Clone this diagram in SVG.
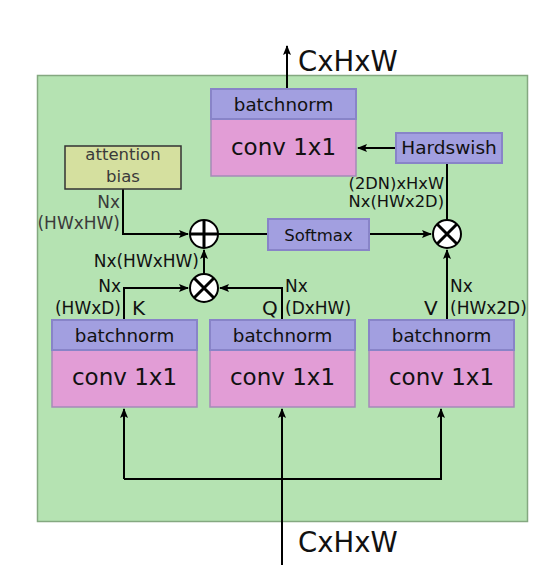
<svg xmlns="http://www.w3.org/2000/svg" width="557" height="583" viewBox="0 0 557 583">
<defs>
<marker id="ah" markerWidth="10" markerHeight="8" refX="9" refY="4" orient="auto" markerUnits="userSpaceOnUse">
<path d="M0,0 L10,4 L0,8 L2,4 Z" fill="#000"/>
</marker>
<style>
text{font-family:"DejaVu Sans","Liberation Sans",sans-serif;fill:#111}
.bn{fill:#a29fe0;stroke:#8884c8;stroke-width:2}
.cv{fill:#e29dd6;stroke:#a58ab8;stroke-width:1.5}
.bnt{font-size:18.3px;text-anchor:middle}
.cvt{font-size:23px;text-anchor:middle}
.lbl{font-size:17px}
.r{text-anchor:end}
.ln{fill:none;stroke:#000;stroke-width:2}
.op{fill:#fff;stroke:#000;stroke-width:2}
</style>
</defs>
<rect id="container" x="37.5" y="75.5" width="490" height="446" fill="#b5e3b2" stroke="#84a880" stroke-width="1.5"/>

<g id="connectors">
<path class="ln" d="M287,89 V46" marker-end="url(#ah)"/>
<path class="ln" d="M396,148 H358" marker-end="url(#ah)"/>
<path class="ln" d="M447,163 V220"/>
<path class="ln" d="M369,234 H431" marker-end="url(#ah)"/>
<path class="ln" d="M218,234 H268"/>
<path class="ln" d="M123,189 V234 H188" marker-end="url(#ah)"/>
<path class="ln" d="M204,274 V250" marker-end="url(#ah)"/>
<path class="ln" d="M124,320 V288 H188" marker-end="url(#ah)"/>
<path class="ln" d="M282,320 V288 H220" marker-end="url(#ah)"/>
<path class="ln" d="M447,320 V250" marker-end="url(#ah)"/>
<path class="ln" d="M282,565 V409" marker-end="url(#ah)"/>
<path class="ln" d="M124,479 V409" marker-end="url(#ah)"/>
<path class="ln" d="M124,479 H441 V409" marker-end="url(#ah)"/>
</g>

<g id="out-conv">
<rect class="cv" x="211" y="119" width="145" height="57"/>
<rect class="bn" x="211" y="89" width="145" height="30"/>
<text class="bnt" x="283.5" y="111">batchnorm</text>
<text class="cvt" x="283.5" y="155">conv 1x1</text>
</g>
<text id="out-label" x="298" y="71" font-size="27.5px">CxHxW</text>

<g id="hardswish">
<rect class="bn" x="396" y="133" width="106" height="30"/>
<text x="449" y="154" font-size="18.5px" text-anchor="middle">Hardswish</text>
</g>

<g id="attention-bias">
<rect x="65" y="146" width="116" height="43" fill="#d5e09f" stroke="#333" stroke-width="1.5"/>
<text x="123" y="160" font-size="16.5px" text-anchor="middle" style="fill:#3a3a3a">attention</text>
<text x="123" y="182" font-size="16.5px" text-anchor="middle" style="fill:#3a3a3a">bias</text>
</g>

<g id="softmax">
<rect class="bn" x="268" y="219" width="101" height="31"/>
<text x="318.5" y="241" font-size="16.5px" text-anchor="middle">Softmax</text>
</g>

<g id="oplus">
<circle class="op" cx="204" cy="234" r="14"/>
<path d="M204,220 V248 M190,234 H218" stroke="#000" stroke-width="3"/>
</g>

<g id="otimes-qk">
<circle class="op" cx="204" cy="288" r="14"/>
<path d="M194,278 L214,298 M214,278 L194,298" stroke="#000" stroke-width="3"/>
</g>

<g id="otimes-v">
<circle class="op" cx="447" cy="234" r="14"/>
<path d="M437,224 L457,244 M457,224 L437,244" stroke="#000" stroke-width="3"/>
</g>

<g id="k-conv">
<rect class="cv" x="52" y="350" width="145" height="57"/>
<rect class="bn" x="52" y="320" width="145" height="30"/>
<text class="bnt" x="124.5" y="342">batchnorm</text>
<text class="cvt" x="124.5" y="385">conv 1x1</text>
</g>
<g id="q-conv">
<rect class="cv" x="210" y="350" width="145" height="57"/>
<rect class="bn" x="210" y="320" width="145" height="30"/>
<text class="bnt" x="282.5" y="342">batchnorm</text>
<text class="cvt" x="282.5" y="385">conv 1x1</text>
</g>
<g id="v-conv">
<rect class="cv" x="369" y="350" width="145" height="57"/>
<rect class="bn" x="369" y="320" width="145" height="30"/>
<text class="bnt" x="441.5" y="342">batchnorm</text>
<text class="cvt" x="441.5" y="385">conv 1x1</text>
</g>

<g id="labels">
<text class="lbl r" x="120" y="208" style="fill:#3a3a3a">Nx</text>
<text class="lbl r" x="120" y="229" style="fill:#3a3a3a">(HWxHW)</text>
<text class="r" x="444" y="188.5" font-size="16.3px">(2DN)xHxW</text>
<text class="r" x="444" y="207" font-size="16.3px">Nx(HWx2D)</text>
<text class="lbl r" x="199" y="267">Nx(HWxHW)</text>
<text class="lbl r" x="121" y="292">Nx</text>
<text class="lbl r" x="121" y="314">(HWxD)</text>
<text x="132" y="315" font-size="20px">K</text>
<text x="262" y="315" font-size="20px">Q</text>
<text class="lbl" x="285" y="292">Nx</text>
<text class="lbl" x="285" y="314">(DxHW)</text>
<text x="424" y="315" font-size="20px">V</text>
<text class="lbl" x="450" y="292">Nx</text>
<text class="lbl" x="450" y="314">(HWx2D)</text>
</g>
<text id="in-label" x="298" y="552" font-size="27.5px">CxHxW</text>
</svg>
